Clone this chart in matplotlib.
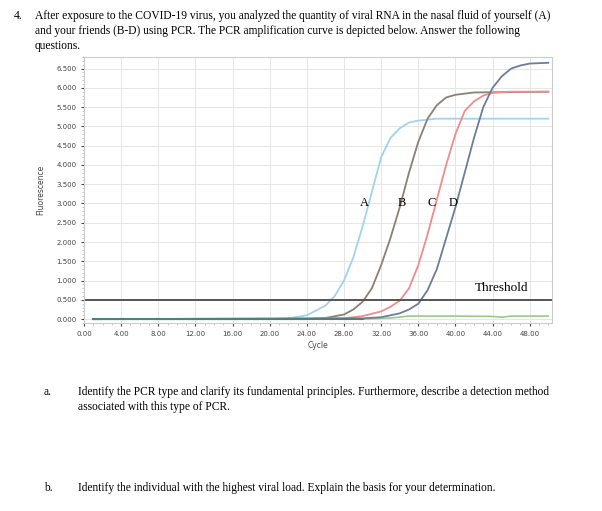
import matplotlib.pyplot as plt
from matplotlib.ticker import MultipleLocator

# amplification curves (cycle, fluorescence)
cyc_a = [1, 20, 22, 24, 26, 27, 28, 29, 30, 31, 32, 33, 34, 35, 36, 38, 50]
flu_a = [0, 0, 0.02, 0.1, 0.35, 0.6, 1.0, 1.6, 2.4, 3.3, 4.2, 4.7, 4.95, 5.1, 5.15, 5.2, 5.2]
cyc_b = [1, 24, 26, 28, 29, 30, 31, 32, 33, 34, 35, 36, 37, 38, 39, 40, 42, 50]
flu_b = [0, 0, 0.03, 0.12, 0.25, 0.45, 0.8, 1.4, 2.1, 2.9, 3.8, 4.6, 5.2, 5.55, 5.75, 5.82, 5.88, 5.9]
cyc_c = [1, 28, 30, 32, 33, 34, 35, 36, 37, 38, 39, 40, 41, 42, 43, 44, 46, 50]
flu_c = [0, 0.02, 0.08, 0.2, 0.32, 0.48, 0.8, 1.4, 2.2, 3.1, 4.0, 4.8, 5.4, 5.65, 5.8, 5.87, 5.9, 5.9]
cyc_d = [1, 30, 32, 34, 35, 36, 37, 38, 39, 40, 41, 42, 43, 44, 45, 46, 47, 48, 50]
flu_d = [0, 0.02, 0.05, 0.15, 0.25, 0.4, 0.75, 1.3, 2.1, 2.9, 3.8, 4.7, 5.5, 6.0, 6.3, 6.5, 6.58, 6.63, 6.65]
cyc_neg = [1, 30, 33, 35, 40, 44, 45, 46, 50]
flu_neg = [0, 0, 0.03, 0.08, 0.08, 0.07, 0.05, 0.08, 0.08]
threshold = 0.5

serif = 'Liberation Serif'
fig = plt.figure(figsize=(6.02, 5.11), dpi=100)

fig.text(14/602, 1-16/511, '4.', family=serif, fontsize=8.3, va='center')
fig.text(35/602, 1-16/511, 'After exposure to the COVID-19 virus, you analyzed the quantity of viral RNA in the nasal fluid of yourself (A)',
         family=serif, fontsize=8.3, va='center')
fig.text(35/602, 1-31/511, 'and your friends (B-D) using PCR. The PCR amplification curve is depicted below. Answer the following',
         family=serif, fontsize=8.3, va='center')
fig.text(35/602, 1-46/511, 'questions.', family=serif, fontsize=8.3, va='center')

ax = fig.add_axes([84/602, 1-323/511, 468/602, 266/511])
ax.plot(cyc_neg, flu_neg, color='#9dc88d', lw=1.2)
ax.plot(cyc_a, flu_a, color='#9fd3ee', lw=1.3)
ax.plot(cyc_b, flu_b, color='#8c7f76', lw=1.3)
ax.plot(cyc_c, flu_c, color='#f08c8c', lw=1.3)
ax.plot(cyc_d, flu_d, color='#6c7c9c', lw=1.3)
ax.plot([1, 30], [0, 0], color='#4f7f7f', lw=1.5)
ax.axhline(threshold, color='#555555', lw=1.4)

ax.set_xlim(0, 50.4)
ax.set_ylim(-0.1, 6.8)
ax.set_xticks(range(0, 49, 4))
ax.set_xticklabels(['%.2f' % v for v in range(0, 49, 4)])
ax.set_yticks([i * 0.5 for i in range(14)])
ax.set_yticklabels(['%.3f' % (i * 0.5) for i in range(14)])
ax.yaxis.set_minor_locator(MultipleLocator(0.1))
ax.xaxis.set_minor_locator(MultipleLocator(1))
ax.tick_params(labelsize=5, colors='#444444', length=2)
ax.tick_params(which='minor', length=1.5, colors='#bbbbbb')
ax.grid(color='#e6e6e6', lw=0.7)
for s in ax.spines.values():
    s.set_color('#cccccc')
ax.set_xlabel('Cycle', fontsize=5.5, color='#444444', labelpad=3)
ax.set_ylabel('Fluorescence', fontsize=5.5, color='#444444', labelpad=8)

for lab, x in zip('ABCD', [30.2, 34.2, 37.4, 39.8]):
    ax.text(x, 3.0, lab, family=serif, fontsize=9, ha='center', va='center')
ax.text(45.0, 0.82, 'Threshold', family=serif, fontsize=9.5, ha='center', va='center')

fig.text(44/602, 1-392/511, 'a.', family=serif, fontsize=8.3, va='center')
fig.text(78/602, 1-392/511, 'Identify the PCR type and clarify its fundamental principles. Furthermore, describe a detection method',
         family=serif, fontsize=8.3, va='center')
fig.text(78/602, 1-407/511, 'associated with this type of PCR.', family=serif, fontsize=8.3, va='center')
fig.text(44/602, 1-488/511, 'b.', family=serif, fontsize=8.3, va='center')
fig.text(78/602, 1-488/511, 'Identify the individual with the highest viral load. Explain the basis for your determination.',
         family=serif, fontsize=8.3, va='center')

fig.savefig('out.png', dpi=100)
